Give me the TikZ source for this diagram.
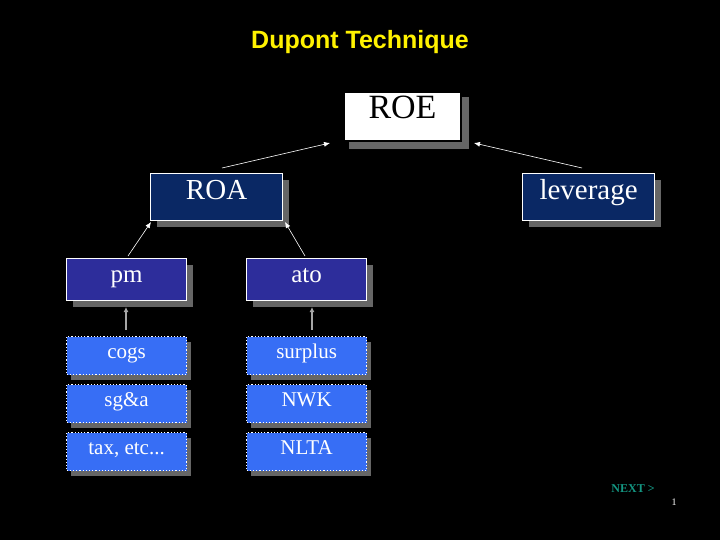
\documentclass[tikz,border=0pt]{standalone}
\usepackage{fontspec}
\setmainfont{Liberation Serif}
\newfontfamily\titlefont{Liberation Sans}
\usetikzlibrary{arrows.meta}
\begin{document}
\begin{tikzpicture}[x=1pt,y=-1pt,
 box/.style={draw=white,line width=1.2pt,text=white,inner sep=0pt,anchor=north west,text height=0.68em,text depth=0.2em},
 shad/.style={fill=gray!80!black},
 arr/.style={draw=white,line width=0.6pt,-{Latex[length=6pt,width=5pt]}},
 garr/.style={draw=gray!70,line width=1.5pt,-{Latex[length=5pt,width=5pt]}}]
\fill[black] (0,0) rectangle (720,540);
\useasboundingbox (0,0) rectangle (720,540);
\node[text=yellow,font=\titlefont\bfseries\fontsize{25}{28}\selectfont] (title) at (360,42) {Dupont Technique};
% shadows
\foreach \x/\y/\w/\h in {342/90/120/52,150/173/132/47,522/173/132/47,66/258/120/42,246/258/120/42}
  \fill[shad] (\x+7,\y+7) rectangle ++(\w,\h);
\foreach \x in {66,246} \foreach \y in {336,384,432}
  \fill[shad] (\x+5,\y+6) rectangle ++(120,38);
\fill[black] (342,90) rectangle ++(120,52);
\node[box,fill=white,text=black,draw=black,line width=1pt,minimum width=116pt,minimum height=48pt,font=\fontsize{34}{36}\selectfont] (roe) at (344,92) {ROE};
\node[box,fill={rgb,255:red,10;green,40;blue,100},minimum width=132pt,minimum height=47pt,font=\fontsize{29}{31}\selectfont] (roa) at (150,173) {ROA};
\node[box,fill={rgb,255:red,10;green,40;blue,100},minimum width=132pt,minimum height=47pt,font=\fontsize{29}{31}\selectfont] (lev) at (522,173) {leverage};
\node[box,fill={rgb,255:red,45;green,45;blue,155},minimum width=120pt,minimum height=42pt,font=\fontsize{25}{27}\selectfont] (pm) at (66,258) {pm};
\node[box,fill={rgb,255:red,45;green,45;blue,155},minimum width=120pt,minimum height=42pt,font=\fontsize{25}{27}\selectfont] (ato) at (246,258) {ato};
\foreach \n/\x/\y/\t in {cogs/66/336/cogs,sga/66/384/sg\&a,tax/66/432/{tax, etc...},sur/246/336/surplus,nwk/246/384/NWK,nlta/246/432/NLTA}
  \node[box,dotted,fill={rgb,255:red,55;green,110;blue,245},minimum width=120pt,minimum height=38pt,font=\fontsize{21}{23}\selectfont] (\n) at (\x,\y) {\t};
\coordinate (a1) at (222,168); \coordinate (b1) at (330,143);
\coordinate (a2) at (582,168); \coordinate (b2) at (474,143);
\draw[arr] (a1) -- (b1);
\draw[arr] (a2) -- (b2);
\draw[arr] (pm.north west) ++(62,-2) -- (151,222);
\draw[arr] (ato.north west) ++(59,-2) -- (285,222);
\draw[garr] (cogs.north west) ++(60,-6) -- (126,307);
\draw[garr] (sur.north west) ++(66,-6) -- (312,307);
\node[text={rgb,255:red,20;green,150;blue,130},font=\bfseries\fontsize{12}{13}\selectfont] (next) at (633,489) {NEXT >};
\node[text=white,font=\fontsize{10}{12}\selectfont] (pg) at (674,502) {1};
\end{tikzpicture}
\end{document}
